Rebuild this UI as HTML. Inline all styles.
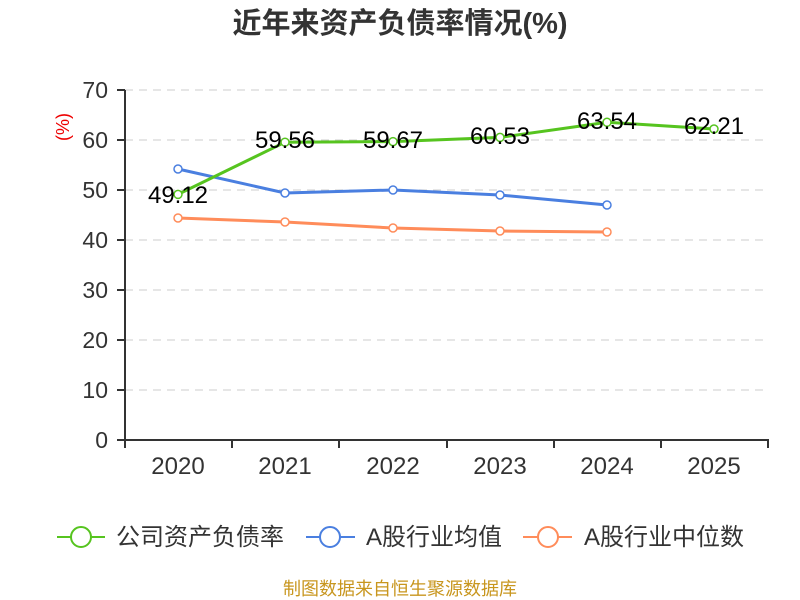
<!DOCTYPE html>
<html><head><meta charset="utf-8"><style>
body{margin:0;background:#fff;}
svg{display:block;font-family:"Liberation Sans","Noto Sans CJK SC",sans-serif;}
</style></head><body>
<svg width="800" height="600" viewBox="0 0 800 600">
<text x="400" y="33" text-anchor="middle" font-size="29" font-weight="bold" fill="#333">近年来资产负债率情况(%)</text>
<g stroke="#ccc" stroke-width="1" stroke-dasharray="8,6">
<line x1="125" y1="90" x2="768" y2="90"/><line x1="125" y1="140" x2="768" y2="140"/><line x1="125" y1="190" x2="768" y2="190"/><line x1="125" y1="240" x2="768" y2="240"/><line x1="125" y1="290" x2="768" y2="290"/><line x1="125" y1="340" x2="768" y2="340"/><line x1="125" y1="390" x2="768" y2="390"/>
</g>
<g stroke="#333" stroke-width="2">
<line x1="125" y1="90" x2="125" y2="440"/><line x1="125" y1="440" x2="769" y2="440"/>
<line x1="117" y1="90" x2="125" y2="90"/><line x1="117" y1="140" x2="125" y2="140"/><line x1="117" y1="190" x2="125" y2="190"/><line x1="117" y1="240" x2="125" y2="240"/><line x1="117" y1="290" x2="125" y2="290"/><line x1="117" y1="340" x2="125" y2="340"/><line x1="117" y1="390" x2="125" y2="390"/><line x1="117" y1="440" x2="125" y2="440"/>
<line x1="125" y1="440" x2="125" y2="448"/><line x1="232" y1="440" x2="232" y2="448"/><line x1="339" y1="440" x2="339" y2="448"/><line x1="447" y1="440" x2="447" y2="448"/><line x1="554" y1="440" x2="554" y2="448"/><line x1="661" y1="440" x2="661" y2="448"/><line x1="768" y1="440" x2="768" y2="448"/>
</g>
<g font-size="23" fill="#333" text-anchor="end">
<text x="108" y="98">70</text><text x="108" y="148">60</text><text x="108" y="198">50</text><text x="108" y="248">40</text><text x="108" y="298">30</text><text x="108" y="348">20</text><text x="108" y="398">10</text><text x="108" y="448">0</text>
</g>
<g font-size="24" fill="#333" text-anchor="middle">
<text x="178" y="474">2020</text><text x="285" y="474">2021</text><text x="393" y="474">2022</text><text x="500" y="474">2023</text><text x="607" y="474">2024</text><text x="714" y="474">2025</text>
</g>
<text x="0" y="0" transform="translate(69,127) rotate(-90)" font-size="18" fill="#e00" text-anchor="middle">(%)</text>
<polyline points="178,218 285,222 393,228 500,231 607,232" fill="none" stroke="#ff8c5a" stroke-width="3"/>
<polyline points="178,169 285,193 393,190 500,195 607,205" fill="none" stroke="#4a7fe0" stroke-width="3"/>
<polyline points="178,194.4 285,142.2 393,141.6 500,137.4 607,122.3 714,129" fill="none" stroke="#56c41f" stroke-width="3"/>
<g fill="#fff" stroke-width="1.5">
<g stroke="#ff8c5a"><circle cx="178" cy="218" r="4"/><circle cx="285" cy="222" r="4"/><circle cx="393" cy="228" r="4"/><circle cx="500" cy="231" r="4"/><circle cx="607" cy="232" r="4"/></g>
<g stroke="#4a7fe0"><circle cx="178" cy="169" r="4"/><circle cx="285" cy="193" r="4"/><circle cx="393" cy="190" r="4"/><circle cx="500" cy="195" r="4"/><circle cx="607" cy="205" r="4"/></g>
<g stroke="#56c41f"><circle cx="178" cy="194.4" r="4"/><circle cx="285" cy="142.2" r="4"/><circle cx="393" cy="141.6" r="4"/><circle cx="500" cy="137.4" r="4"/><circle cx="607" cy="122.3" r="4"/><circle cx="714" cy="129" r="4"/></g>
</g>
<g font-size="24" fill="#000" text-anchor="middle">
<text x="178" y="203">49.12</text><text x="285" y="148">59.56</text><text x="393" y="148">59.67</text><text x="500" y="144">60.53</text><text x="607" y="129">63.54</text><text x="714" y="134">62.21</text>
</g>
<g font-size="24" fill="#333">
<line x1="57" y1="537" x2="105" y2="537" stroke="#56c41f" stroke-width="2"/><circle cx="81" cy="537" r="10" fill="#fff" stroke="#56c41f" stroke-width="2"/><text x="116" y="545">公司资产负债率</text>
<line x1="306" y1="537" x2="355" y2="537" stroke="#4a7fe0" stroke-width="2"/><circle cx="330" cy="537" r="10" fill="#fff" stroke="#4a7fe0" stroke-width="2"/><text x="366" y="545">A股行业均值</text>
<line x1="523" y1="537" x2="572" y2="537" stroke="#ff8c5a" stroke-width="2"/><circle cx="548" cy="537" r="10" fill="#fff" stroke="#ff8c5a" stroke-width="2"/><text x="584" y="545">A股行业中位数</text>
</g>
<text x="400" y="595" text-anchor="middle" font-size="18" fill="#c8961e">制图数据来自恒生聚源数据库</text>
</svg>
</body></html>
